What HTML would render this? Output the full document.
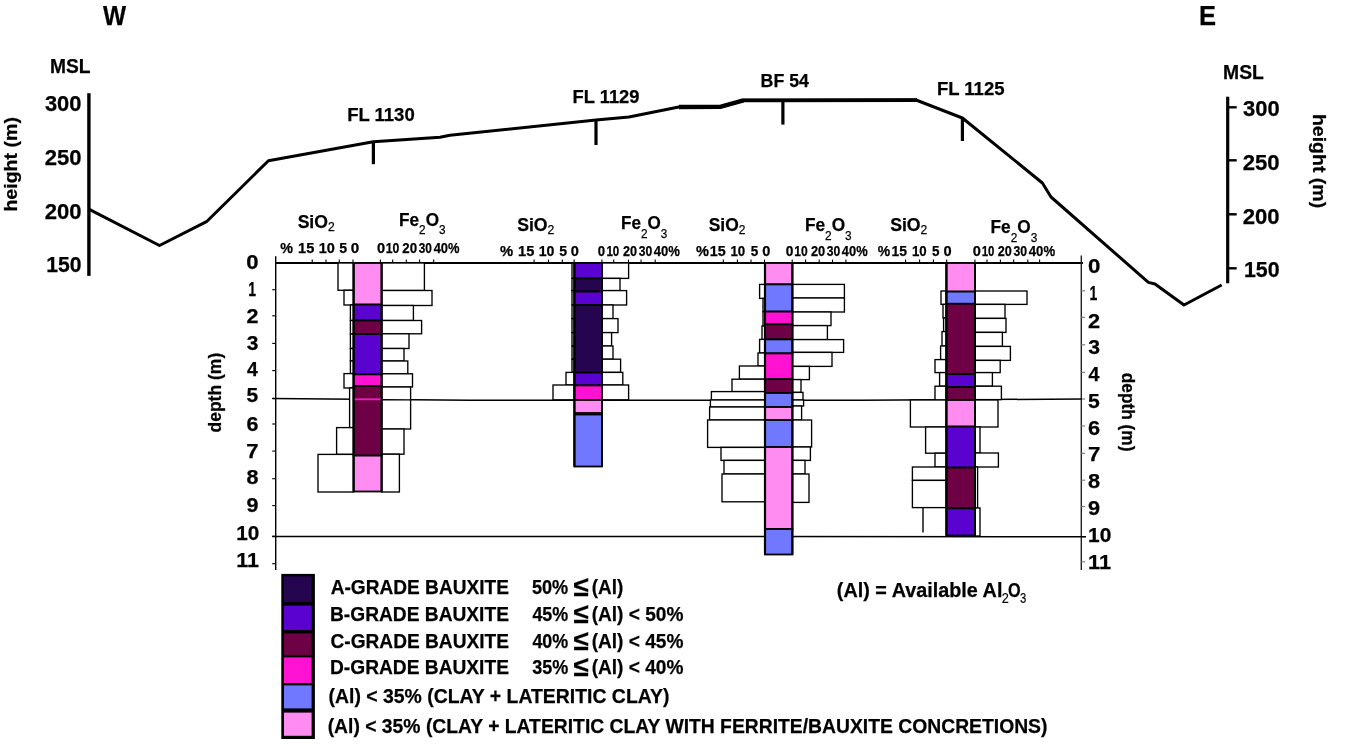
<!DOCTYPE html>
<html lang="en">
<head>
<meta charset="utf-8">
<title>Bauxite profile W–E</title>
<style>
html,body{margin:0;padding:0;background:#fff;}
body{width:1350px;height:750px;overflow:hidden;}
svg{display:block;}
svg text{font-family:"Liberation Sans", Arial, Helvetica, sans-serif;font-weight:bold;fill:#000;stroke:#000;stroke-width:0.25px;}
</style>
</head>
<body>
<svg width="1350" height="750" viewBox="0 0 1350 750" role="img" aria-label="W–E bauxite profile with borehole logs">
<rect x="0" y="0" width="1350" height="750" fill="#fff"/>
<g id="shapes">
<polyline fill="none" stroke="#000" stroke-width="3.0" stroke-linejoin="round" stroke-linecap="butt" points="89.3,209.3 159.5,245.5 206.5,221.7 268.4,160.8 373.3,141.8 440,137.3 450,135.3 596,120 629,117 680,106.8 721,106.8 743.5,100.3 783.3,100.2 916,100 962.4,118 1042.4,183 1051,197 1148.4,282.4 1155,284 1184,305 1221.7,285"/>
<polyline fill="none" stroke="#000" stroke-width="4.5" stroke-linejoin="round" points="679,106.9 721,106.7 743.5,100.3"/>
<line x1="743" y1="100.3" x2="917" y2="100.1" stroke="#000" stroke-width="3.8"/>
<line x1="373.4" y1="141" x2="373.4" y2="164.2" stroke="#000" stroke-width="3.2"/>
<line x1="596" y1="120" x2="596" y2="145" stroke="#000" stroke-width="3.2"/>
<line x1="782.9" y1="100" x2="782.9" y2="124.6" stroke="#000" stroke-width="3.2"/>
<line x1="962.4" y1="118" x2="962.4" y2="141" stroke="#000" stroke-width="3.2"/>
<line x1="88.9" y1="93.2" x2="88.9" y2="275.9" stroke="#000" stroke-width="3.4"/>
<line x1="1227.7" y1="96.7" x2="1227.7" y2="283.3" stroke="#000" stroke-width="3.2"/>
<line x1="1227.7" y1="107.3" x2="1236.7" y2="107.3" stroke="#000" stroke-width="2.4"/>
<line x1="1227.7" y1="160.3" x2="1236.7" y2="160.3" stroke="#000" stroke-width="2.4"/>
<line x1="1227.7" y1="214.3" x2="1236.7" y2="214.3" stroke="#000" stroke-width="2.4"/>
<line x1="1227.7" y1="268.3" x2="1236.7" y2="268.3" stroke="#000" stroke-width="2.4"/>
<line x1="275.6" y1="263" x2="1083" y2="263" stroke="#000" stroke-width="2.1"/>
<line x1="275.7" y1="256.3" x2="275.7" y2="570" stroke="#000" stroke-width="1.4"/>
<line x1="1081.3" y1="255.5" x2="1081.3" y2="570" stroke="#222" stroke-width="1.4"/>
<line x1="272.2" y1="289.7" x2="275.7" y2="289.7" stroke="#000" stroke-width="1.1"/>
<line x1="1081.3" y1="290.8" x2="1085.2" y2="290.8" stroke="#777" stroke-width="1.1"/>
<line x1="272.2" y1="315.8" x2="275.7" y2="315.8" stroke="#000" stroke-width="1.1"/>
<line x1="1081.3" y1="317.3" x2="1085.2" y2="317.3" stroke="#777" stroke-width="1.1"/>
<line x1="272.2" y1="343.4" x2="275.7" y2="343.4" stroke="#000" stroke-width="1.1"/>
<line x1="1081.3" y1="344.8" x2="1085.2" y2="344.8" stroke="#777" stroke-width="1.1"/>
<line x1="272.2" y1="370.6" x2="275.7" y2="370.6" stroke="#000" stroke-width="1.1"/>
<line x1="1081.3" y1="372.4" x2="1085.2" y2="372.4" stroke="#777" stroke-width="1.1"/>
<line x1="272.2" y1="398.5" x2="275.7" y2="398.5" stroke="#000" stroke-width="1.1"/>
<line x1="1081.3" y1="399" x2="1085.2" y2="399" stroke="#777" stroke-width="1.1"/>
<line x1="272.2" y1="424" x2="275.7" y2="424" stroke="#000" stroke-width="1.1"/>
<line x1="1081.3" y1="426" x2="1085.2" y2="426" stroke="#777" stroke-width="1.1"/>
<line x1="272.2" y1="451.1" x2="275.7" y2="451.1" stroke="#000" stroke-width="1.1"/>
<line x1="1081.3" y1="453.3" x2="1085.2" y2="453.3" stroke="#777" stroke-width="1.1"/>
<line x1="272.2" y1="478.7" x2="275.7" y2="478.7" stroke="#000" stroke-width="1.1"/>
<line x1="1081.3" y1="480.2" x2="1085.2" y2="480.2" stroke="#777" stroke-width="1.1"/>
<line x1="272.2" y1="505.6" x2="275.7" y2="505.6" stroke="#000" stroke-width="1.1"/>
<line x1="1081.3" y1="506.6" x2="1085.2" y2="506.6" stroke="#777" stroke-width="1.1"/>
<line x1="272.2" y1="536.3" x2="275.7" y2="536.3" stroke="#000" stroke-width="1.1"/>
<line x1="1081.3" y1="536.8" x2="1085.2" y2="536.8" stroke="#777" stroke-width="1.1"/>
<line x1="272.2" y1="563.7" x2="275.7" y2="563.7" stroke="#000" stroke-width="1.1"/>
<line x1="1081.3" y1="561.8" x2="1085.2" y2="561.8" stroke="#777" stroke-width="1.1"/>
<polyline fill="none" stroke="#000" stroke-width="1.5" points="272.2,398.5 470,400.3 860,400.3 1082,399"/>
<line x1="272.2" y1="536.5" x2="1086" y2="536.7" stroke="#000" stroke-width="1.5"/>
<rect x="338.0" y="263.0" width="15.6" height="27.3" fill="#fff" stroke="#000" stroke-width="1.35"/>
<rect x="344.0" y="290.3" width="9.6" height="14.7" fill="#fff" stroke="#000" stroke-width="1.35"/>
<rect x="350.4" y="305.0" width="3.2" height="15.5" fill="#fff" stroke="#000" stroke-width="1.35"/>
<rect x="350.4" y="320.5" width="3.2" height="13.5" fill="#fff" stroke="#000" stroke-width="1.35"/>
<rect x="350.4" y="334.0" width="3.2" height="14.5" fill="#fff" stroke="#000" stroke-width="1.35"/>
<rect x="350.4" y="348.5" width="3.2" height="12.5" fill="#fff" stroke="#000" stroke-width="1.35"/>
<rect x="350.4" y="361.0" width="3.2" height="12.6" fill="#fff" stroke="#000" stroke-width="1.35"/>
<rect x="344.0" y="373.6" width="9.6" height="14.4" fill="#fff" stroke="#000" stroke-width="1.35"/>
<rect x="349.6" y="388.0" width="4.0" height="39.6" fill="#fff" stroke="#000" stroke-width="1.35"/>
<rect x="336.6" y="427.6" width="17.0" height="26.8" fill="#fff" stroke="#000" stroke-width="1.35"/>
<rect x="318.0" y="454.4" width="35.6" height="37.6" fill="#fff" stroke="#000" stroke-width="1.35"/>
<rect x="381.6" y="263.0" width="42.8" height="27.5" fill="#fff" stroke="#000" stroke-width="1.35"/>
<rect x="381.6" y="290.5" width="50.4" height="15.0" fill="#fff" stroke="#000" stroke-width="1.35"/>
<rect x="381.6" y="305.5" width="31.8" height="15.0" fill="#fff" stroke="#000" stroke-width="1.35"/>
<rect x="381.6" y="320.5" width="40.0" height="13.3" fill="#fff" stroke="#000" stroke-width="1.35"/>
<rect x="381.6" y="333.8" width="27.4" height="14.7" fill="#fff" stroke="#000" stroke-width="1.35"/>
<rect x="381.6" y="348.5" width="22.4" height="12.5" fill="#fff" stroke="#000" stroke-width="1.35"/>
<rect x="381.6" y="361.0" width="26.2" height="12.8" fill="#fff" stroke="#000" stroke-width="1.35"/>
<rect x="381.6" y="373.8" width="30.9" height="13.2" fill="#fff" stroke="#000" stroke-width="1.35"/>
<rect x="381.6" y="387.0" width="29.0" height="42.0" fill="#fff" stroke="#000" stroke-width="1.35"/>
<rect x="381.6" y="429.0" width="22.4" height="25.2" fill="#fff" stroke="#000" stroke-width="1.35"/>
<rect x="381.6" y="454.2" width="17.8" height="37.8" fill="#fff" stroke="#000" stroke-width="1.35"/>
<rect x="353.6" y="263.0" width="28.0" height="41.6" fill="#ff8cf0" stroke="#000" stroke-width="1.8"/>
<rect x="353.6" y="304.6" width="28.0" height="15.9" fill="#5a03d0" stroke="#000" stroke-width="1.8"/>
<rect x="353.6" y="320.5" width="28.0" height="13.5" fill="#6e0046" stroke="#000" stroke-width="1.8"/>
<rect x="353.6" y="334.0" width="28.0" height="40.4" fill="#5a03d0" stroke="#000" stroke-width="1.8"/>
<rect x="353.6" y="374.4" width="28.0" height="11.6" fill="#ff12d2" stroke="#000" stroke-width="1.8"/>
<rect x="353.6" y="386.0" width="28.0" height="69.6" fill="#6e0046" stroke="#000" stroke-width="1.8"/>
<rect x="353.6" y="455.6" width="28.0" height="35.9" fill="#ff8cf0" stroke="#000" stroke-width="1.8"/>
<line x1="353.6" y1="263" x2="353.6" y2="491.5" stroke="#000" stroke-width="2.2"/>
<line x1="381.6" y1="263" x2="381.6" y2="491.5" stroke="#000" stroke-width="2.0"/>
<rect x="572.0" y="263.0" width="2.4" height="15.4" fill="#fff" stroke="#000" stroke-width="1.35"/>
<rect x="572.0" y="278.4" width="2.4" height="12.2" fill="#fff" stroke="#000" stroke-width="1.35"/>
<rect x="572.0" y="290.6" width="2.4" height="14.4" fill="#fff" stroke="#000" stroke-width="1.35"/>
<rect x="572.0" y="305.0" width="2.4" height="13.6" fill="#fff" stroke="#000" stroke-width="1.35"/>
<rect x="572.0" y="318.6" width="2.4" height="14.0" fill="#fff" stroke="#000" stroke-width="1.35"/>
<rect x="572.0" y="332.6" width="2.4" height="13.4" fill="#fff" stroke="#000" stroke-width="1.35"/>
<rect x="572.0" y="346.0" width="2.4" height="13.2" fill="#fff" stroke="#000" stroke-width="1.35"/>
<rect x="572.0" y="359.2" width="2.4" height="13.2" fill="#fff" stroke="#000" stroke-width="1.35"/>
<rect x="566.0" y="372.4" width="8.4" height="12.6" fill="#fff" stroke="#000" stroke-width="1.35"/>
<rect x="553.0" y="385.0" width="21.4" height="14.8" fill="#fff" stroke="#000" stroke-width="1.35"/>
<rect x="602.0" y="263.0" width="26.6" height="15.4" fill="#fff" stroke="#000" stroke-width="1.35"/>
<rect x="602.0" y="278.4" width="18.0" height="12.2" fill="#fff" stroke="#000" stroke-width="1.35"/>
<rect x="602.0" y="290.6" width="24.6" height="14.4" fill="#fff" stroke="#000" stroke-width="1.35"/>
<rect x="602.0" y="305.0" width="11.0" height="13.6" fill="#fff" stroke="#000" stroke-width="1.35"/>
<rect x="602.0" y="318.6" width="16.0" height="14.0" fill="#fff" stroke="#000" stroke-width="1.35"/>
<rect x="602.0" y="332.6" width="9.6" height="13.4" fill="#fff" stroke="#000" stroke-width="1.35"/>
<rect x="602.0" y="346.0" width="11.0" height="13.2" fill="#fff" stroke="#000" stroke-width="1.35"/>
<rect x="602.0" y="359.2" width="18.6" height="13.2" fill="#fff" stroke="#000" stroke-width="1.35"/>
<rect x="602.0" y="372.4" width="20.8" height="12.6" fill="#fff" stroke="#000" stroke-width="1.35"/>
<rect x="602.0" y="385.0" width="26.6" height="14.8" fill="#fff" stroke="#000" stroke-width="1.35"/>
<rect x="574.4" y="263.0" width="27.6" height="15.4" fill="#5a03d0" stroke="#000" stroke-width="1.8"/>
<rect x="574.4" y="278.4" width="27.6" height="13.2" fill="#25054f" stroke="#000" stroke-width="1.8"/>
<rect x="574.4" y="291.6" width="27.6" height="13.4" fill="#5a03d0" stroke="#000" stroke-width="1.8"/>
<rect x="574.4" y="305.0" width="27.6" height="67.6" fill="#25054f" stroke="#000" stroke-width="1.8"/>
<rect x="574.4" y="372.6" width="27.6" height="12.8" fill="#5a03d0" stroke="#000" stroke-width="1.8"/>
<rect x="574.4" y="385.4" width="27.6" height="14.6" fill="#ff12d2" stroke="#000" stroke-width="1.8"/>
<rect x="574.4" y="400.0" width="27.6" height="13.0" fill="#ff8cf0" stroke="#000" stroke-width="1.8"/>
<rect x="574.4" y="414.5" width="27.6" height="52.0" fill="#7078ff" stroke="#000" stroke-width="1.8"/>
<line x1="574.4" y1="263" x2="574.4" y2="466.5" stroke="#000" stroke-width="2.2"/>
<line x1="602" y1="263" x2="602" y2="466.5" stroke="#000" stroke-width="2.0"/>
<rect x="759.6" y="284.4" width="5.4" height="14.0" fill="#fff" stroke="#000" stroke-width="1.35"/>
<rect x="763.0" y="298.4" width="2.0" height="13.2" fill="#fff" stroke="#000" stroke-width="1.35"/>
<rect x="763.0" y="311.6" width="2.0" height="14.4" fill="#fff" stroke="#000" stroke-width="1.35"/>
<rect x="762.0" y="326.0" width="3.0" height="13.4" fill="#fff" stroke="#000" stroke-width="1.35"/>
<rect x="759.6" y="339.4" width="5.4" height="13.6" fill="#fff" stroke="#000" stroke-width="1.35"/>
<rect x="758.0" y="353.0" width="7.0" height="13.0" fill="#fff" stroke="#000" stroke-width="1.35"/>
<rect x="739.4" y="366.0" width="25.6" height="13.2" fill="#fff" stroke="#000" stroke-width="1.35"/>
<rect x="732.0" y="379.2" width="33.0" height="12.4" fill="#fff" stroke="#000" stroke-width="1.35"/>
<rect x="711.4" y="391.6" width="53.6" height="8.4" fill="#fff" stroke="#000" stroke-width="1.35"/>
<rect x="710.4" y="400.0" width="54.6" height="7.0" fill="#fff" stroke="#000" stroke-width="1.35"/>
<rect x="709.6" y="407.0" width="55.4" height="13.0" fill="#fff" stroke="#000" stroke-width="1.35"/>
<rect x="707.6" y="420.0" width="57.4" height="27.4" fill="#fff" stroke="#000" stroke-width="1.35"/>
<rect x="721.0" y="447.4" width="44.0" height="13.0" fill="#fff" stroke="#000" stroke-width="1.35"/>
<rect x="724.0" y="460.4" width="41.0" height="13.6" fill="#fff" stroke="#000" stroke-width="1.35"/>
<rect x="722.0" y="474.0" width="43.0" height="27.8" fill="#fff" stroke="#000" stroke-width="1.35"/>
<rect x="792.4" y="284.4" width="52.0" height="13.6" fill="#fff" stroke="#000" stroke-width="1.35"/>
<rect x="792.4" y="298.0" width="52.0" height="14.0" fill="#fff" stroke="#000" stroke-width="1.35"/>
<rect x="792.4" y="312.0" width="38.6" height="13.6" fill="#fff" stroke="#000" stroke-width="1.35"/>
<rect x="792.4" y="325.6" width="35.0" height="14.0" fill="#fff" stroke="#000" stroke-width="1.35"/>
<rect x="792.4" y="339.6" width="51.2" height="12.8" fill="#fff" stroke="#000" stroke-width="1.35"/>
<rect x="792.4" y="352.4" width="39.6" height="14.0" fill="#fff" stroke="#000" stroke-width="1.35"/>
<rect x="792.4" y="366.4" width="17.0" height="13.2" fill="#fff" stroke="#000" stroke-width="1.35"/>
<rect x="792.4" y="379.6" width="8.6" height="12.8" fill="#fff" stroke="#000" stroke-width="1.35"/>
<rect x="792.4" y="392.4" width="10.6" height="7.6" fill="#fff" stroke="#000" stroke-width="1.35"/>
<rect x="792.4" y="400.0" width="11.2" height="6.0" fill="#fff" stroke="#000" stroke-width="1.35"/>
<rect x="792.4" y="406.0" width="9.2" height="14.0" fill="#fff" stroke="#000" stroke-width="1.35"/>
<rect x="792.4" y="420.0" width="19.2" height="27.0" fill="#fff" stroke="#000" stroke-width="1.35"/>
<rect x="792.4" y="447.0" width="18.0" height="13.4" fill="#fff" stroke="#000" stroke-width="1.35"/>
<rect x="792.4" y="460.4" width="12.6" height="13.6" fill="#fff" stroke="#000" stroke-width="1.35"/>
<rect x="792.4" y="474.0" width="16.6" height="28.4" fill="#fff" stroke="#000" stroke-width="1.35"/>
<rect x="765.0" y="263.0" width="27.4" height="21.4" fill="#ff8cf0" stroke="#000" stroke-width="1.8"/>
<rect x="765.0" y="284.4" width="27.4" height="27.2" fill="#7078ff" stroke="#000" stroke-width="1.8"/>
<rect x="765.0" y="311.6" width="27.4" height="12.8" fill="#ff12d2" stroke="#000" stroke-width="1.8"/>
<rect x="765.0" y="324.4" width="27.4" height="15.0" fill="#6e0046" stroke="#000" stroke-width="1.8"/>
<rect x="765.0" y="339.4" width="27.4" height="14.0" fill="#7078ff" stroke="#000" stroke-width="1.8"/>
<rect x="765.0" y="353.4" width="27.4" height="25.8" fill="#ff12d2" stroke="#000" stroke-width="1.8"/>
<rect x="765.0" y="379.2" width="27.4" height="13.8" fill="#6e0046" stroke="#000" stroke-width="1.8"/>
<rect x="765.0" y="393.0" width="27.4" height="14.0" fill="#7078ff" stroke="#000" stroke-width="1.8"/>
<rect x="765.0" y="407.0" width="27.4" height="13.0" fill="#ff8cf0" stroke="#000" stroke-width="1.8"/>
<rect x="765.0" y="420.0" width="27.4" height="27.0" fill="#7078ff" stroke="#000" stroke-width="1.8"/>
<rect x="765.0" y="447.0" width="27.4" height="82.0" fill="#ff8cf0" stroke="#000" stroke-width="1.8"/>
<rect x="765.0" y="529.0" width="27.4" height="25.5" fill="#7078ff" stroke="#000" stroke-width="1.8"/>
<line x1="765" y1="263" x2="765" y2="554.5" stroke="#000" stroke-width="2.2"/>
<line x1="792.4" y1="263" x2="792.4" y2="554.5" stroke="#000" stroke-width="2.0"/>
<rect x="941.0" y="291.0" width="5.4" height="13.4" fill="#fff" stroke="#000" stroke-width="1.35"/>
<rect x="943.0" y="304.4" width="3.4" height="13.6" fill="#fff" stroke="#000" stroke-width="1.35"/>
<rect x="943.6" y="318.0" width="2.8" height="13.6" fill="#fff" stroke="#000" stroke-width="1.35"/>
<rect x="942.0" y="331.6" width="4.4" height="14.4" fill="#fff" stroke="#000" stroke-width="1.35"/>
<rect x="940.6" y="346.0" width="5.8" height="13.6" fill="#fff" stroke="#000" stroke-width="1.35"/>
<rect x="935.0" y="359.6" width="11.4" height="13.0" fill="#fff" stroke="#000" stroke-width="1.35"/>
<rect x="939.6" y="372.6" width="6.8" height="13.6" fill="#fff" stroke="#000" stroke-width="1.35"/>
<rect x="935.0" y="386.2" width="11.4" height="13.8" fill="#fff" stroke="#000" stroke-width="1.35"/>
<rect x="910.4" y="400.0" width="36.0" height="27.0" fill="#fff" stroke="#000" stroke-width="1.35"/>
<rect x="925.6" y="427.0" width="20.8" height="26.2" fill="#fff" stroke="#000" stroke-width="1.35"/>
<rect x="935.0" y="453.2" width="11.4" height="13.8" fill="#fff" stroke="#000" stroke-width="1.35"/>
<rect x="912.4" y="467.0" width="34.0" height="13.4" fill="#fff" stroke="#000" stroke-width="1.35"/>
<rect x="912.4" y="480.4" width="34.0" height="27.2" fill="#fff" stroke="#000" stroke-width="1.35"/>
<rect x="975.0" y="291.0" width="52.0" height="13.4" fill="#fff" stroke="#000" stroke-width="1.35"/>
<rect x="975.0" y="304.4" width="30.0" height="14.0" fill="#fff" stroke="#000" stroke-width="1.35"/>
<rect x="975.0" y="318.4" width="31.0" height="14.0" fill="#fff" stroke="#000" stroke-width="1.35"/>
<rect x="975.0" y="332.4" width="27.4" height="14.0" fill="#fff" stroke="#000" stroke-width="1.35"/>
<rect x="975.0" y="346.4" width="35.4" height="14.0" fill="#fff" stroke="#000" stroke-width="1.35"/>
<rect x="975.0" y="360.4" width="25.2" height="12.2" fill="#fff" stroke="#000" stroke-width="1.35"/>
<rect x="975.0" y="372.6" width="17.4" height="13.6" fill="#fff" stroke="#000" stroke-width="1.35"/>
<rect x="975.0" y="386.2" width="26.4" height="13.4" fill="#fff" stroke="#000" stroke-width="1.35"/>
<rect x="975.0" y="400.0" width="23.0" height="27.0" fill="#fff" stroke="#000" stroke-width="1.35"/>
<rect x="975.0" y="427.0" width="5.0" height="26.0" fill="#fff" stroke="#000" stroke-width="1.35"/>
<rect x="975.0" y="453.0" width="23.4" height="14.0" fill="#fff" stroke="#000" stroke-width="1.35"/>
<rect x="975.0" y="467.0" width="2.6" height="41.0" fill="#fff" stroke="#000" stroke-width="1.35"/>
<rect x="975.0" y="508.0" width="5.0" height="28.0" fill="#fff" stroke="#000" stroke-width="1.35"/>
<rect x="946.4" y="263.0" width="28.6" height="28.6" fill="#ff8cf0" stroke="#000" stroke-width="1.8"/>
<rect x="946.4" y="291.6" width="28.6" height="12.2" fill="#7078ff" stroke="#000" stroke-width="1.8"/>
<rect x="946.4" y="303.8" width="28.6" height="70.4" fill="#6e0046" stroke="#000" stroke-width="1.8"/>
<rect x="946.4" y="374.2" width="28.6" height="12.8" fill="#5a03d0" stroke="#000" stroke-width="1.8"/>
<rect x="946.4" y="387.0" width="28.6" height="13.0" fill="#6e0046" stroke="#000" stroke-width="1.8"/>
<rect x="946.4" y="400.0" width="28.6" height="26.6" fill="#ff8cf0" stroke="#000" stroke-width="1.8"/>
<rect x="946.4" y="426.6" width="28.6" height="41.0" fill="#5a03d0" stroke="#000" stroke-width="1.8"/>
<rect x="946.4" y="467.6" width="28.6" height="40.8" fill="#6e0046" stroke="#000" stroke-width="1.8"/>
<rect x="946.4" y="508.4" width="28.6" height="27.1" fill="#5a03d0" stroke="#000" stroke-width="1.8"/>
<line x1="946.4" y1="263" x2="946.4" y2="535.5" stroke="#000" stroke-width="2.2"/>
<line x1="975" y1="263" x2="975" y2="535.5" stroke="#000" stroke-width="2.0"/>
<line x1="354.8" y1="399.3" x2="380.6" y2="399.3" stroke="#f01cc0" stroke-width="1.9"/>
<line x1="382" y1="399.7" x2="411" y2="399.9" stroke="#000" stroke-width="1.4"/>
<line x1="923" y1="508" x2="923" y2="532.5" stroke="#000" stroke-width="1.4"/>
<line x1="312.2" y1="259.6" x2="312.2" y2="263" stroke="#000" stroke-width="1.1"/>
<line x1="326" y1="259.6" x2="326" y2="263" stroke="#000" stroke-width="1.1"/>
<line x1="339.3" y1="259.6" x2="339.3" y2="263" stroke="#000" stroke-width="1.1"/>
<line x1="353" y1="259.6" x2="353" y2="263" stroke="#000" stroke-width="1.1"/>
<line x1="380.4" y1="259.6" x2="380.4" y2="263" stroke="#000" stroke-width="1.1"/>
<line x1="392.7" y1="259.6" x2="392.7" y2="263" stroke="#000" stroke-width="1.1"/>
<line x1="406.3" y1="259.6" x2="406.3" y2="263" stroke="#000" stroke-width="1.1"/>
<line x1="419.6" y1="259.6" x2="419.6" y2="263" stroke="#000" stroke-width="1.1"/>
<line x1="433.7" y1="259.6" x2="433.7" y2="263" stroke="#000" stroke-width="1.1"/>
<line x1="534.1" y1="259.6" x2="534.1" y2="263" stroke="#000" stroke-width="1.1"/>
<line x1="548.5" y1="259.6" x2="548.5" y2="263" stroke="#000" stroke-width="1.1"/>
<line x1="562.3" y1="259.6" x2="562.3" y2="263" stroke="#000" stroke-width="1.1"/>
<line x1="574.1" y1="259.6" x2="574.1" y2="263" stroke="#000" stroke-width="1.1"/>
<line x1="601.9" y1="259.6" x2="601.9" y2="263" stroke="#000" stroke-width="1.1"/>
<line x1="613.7" y1="259.6" x2="613.7" y2="263" stroke="#000" stroke-width="1.1"/>
<line x1="628.5" y1="259.6" x2="628.5" y2="263" stroke="#000" stroke-width="1.1"/>
<line x1="641.1" y1="259.6" x2="641.1" y2="263" stroke="#000" stroke-width="1.1"/>
<line x1="655.2" y1="259.6" x2="655.2" y2="263" stroke="#000" stroke-width="1.1"/>
<line x1="723.3" y1="259.6" x2="723.3" y2="263" stroke="#000" stroke-width="1.1"/>
<line x1="737.4" y1="259.6" x2="737.4" y2="263" stroke="#000" stroke-width="1.1"/>
<line x1="751" y1="259.6" x2="751" y2="263" stroke="#000" stroke-width="1.1"/>
<line x1="764.5" y1="259.6" x2="764.5" y2="263" stroke="#000" stroke-width="1.1"/>
<line x1="792.2" y1="259.6" x2="792.2" y2="263" stroke="#000" stroke-width="1.1"/>
<line x1="805.6" y1="259.6" x2="805.6" y2="263" stroke="#000" stroke-width="1.1"/>
<line x1="819.2" y1="259.6" x2="819.2" y2="263" stroke="#000" stroke-width="1.1"/>
<line x1="832.5" y1="259.6" x2="832.5" y2="263" stroke="#000" stroke-width="1.1"/>
<line x1="845.9" y1="259.6" x2="845.9" y2="263" stroke="#000" stroke-width="1.1"/>
<line x1="905.6" y1="259.6" x2="905.6" y2="263" stroke="#000" stroke-width="1.1"/>
<line x1="919.6" y1="259.6" x2="919.6" y2="263" stroke="#000" stroke-width="1.1"/>
<line x1="933.4" y1="259.6" x2="933.4" y2="263" stroke="#000" stroke-width="1.1"/>
<line x1="946.7" y1="259.6" x2="946.7" y2="263" stroke="#000" stroke-width="1.1"/>
<line x1="974.9" y1="259.6" x2="974.9" y2="263" stroke="#000" stroke-width="1.1"/>
<line x1="987" y1="259.6" x2="987" y2="263" stroke="#000" stroke-width="1.1"/>
<line x1="1000.4" y1="259.6" x2="1000.4" y2="263" stroke="#000" stroke-width="1.1"/>
<line x1="1013.7" y1="259.6" x2="1013.7" y2="263" stroke="#000" stroke-width="1.1"/>
<line x1="1027.8" y1="259.6" x2="1027.8" y2="263" stroke="#000" stroke-width="1.1"/>
<line x1="1039.6" y1="259.6" x2="1039.6" y2="263" stroke="#000" stroke-width="1.1"/>
<rect x="282.6" y="575.2" width="31.0" height="162.5" fill="#000" stroke="#000" stroke-width="2.6"/>
<rect x="284" y="576.4" width="27.6" height="25.6" fill="#25054f"/>
<rect x="284" y="605.6" width="27.6" height="24.4" fill="#5a03d0"/>
<rect x="284" y="633.4" width="27.6" height="21.8" fill="#6e0046"/>
<rect x="284" y="657.4" width="27.6" height="25.6" fill="#ff12d2"/>
<rect x="284" y="685.4" width="27.6" height="23.0" fill="#7078ff"/>
<rect x="284" y="712.6" width="27.6" height="23.2" fill="#ff8cf0"/>
</g>
<g id="labels">
<text x="102.90" y="25" font-size="28.35" textLength="23.11" lengthAdjust="spacingAndGlyphs">W</text>
<text x="1198.90" y="25" font-size="28.35" textLength="17.05" lengthAdjust="spacingAndGlyphs">E</text>
<text x="49.90" y="73.2" font-size="20.58" textLength="40.54" lengthAdjust="spacingAndGlyphs">MSL</text>
<text x="1223.09" y="78.9" font-size="20.58" textLength="40.75" lengthAdjust="spacingAndGlyphs">MSL</text>
<text x="44.91" y="110.8" font-size="22.26" textLength="36.55" lengthAdjust="spacingAndGlyphs">300</text>
<text x="44.66" y="164.7" font-size="22.26" textLength="36.81" lengthAdjust="spacingAndGlyphs">250</text>
<text x="44.66" y="219.2" font-size="22.26" textLength="36.81" lengthAdjust="spacingAndGlyphs">200</text>
<text x="46.18" y="272" font-size="22.26" textLength="35.26" lengthAdjust="spacingAndGlyphs">150</text>
<text x="1243.01" y="115.7" font-size="22.26" textLength="36.66" lengthAdjust="spacingAndGlyphs">300</text>
<text x="1242.75" y="170" font-size="22.26" textLength="36.92" lengthAdjust="spacingAndGlyphs">250</text>
<text x="1242.75" y="224" font-size="22.26" textLength="36.92" lengthAdjust="spacingAndGlyphs">200</text>
<text x="1243.96" y="277.4" font-size="22.26" textLength="35.68" lengthAdjust="spacingAndGlyphs">150</text>
<text transform="translate(16.6,211.61) rotate(-90)" font-size="18.69" textLength="94.52" lengthAdjust="spacingAndGlyphs">height (m)</text>
<text transform="translate(1313.2,113.89) rotate(90)" font-size="18.69" textLength="94.31" lengthAdjust="spacingAndGlyphs">height (m)</text>
<text x="347.15" y="121" font-size="18.48" textLength="67.54" lengthAdjust="spacingAndGlyphs">FL 1130</text>
<text x="572.56" y="102.5" font-size="18.48" textLength="66.92" lengthAdjust="spacingAndGlyphs">FL 1129</text>
<text x="760.60" y="87" font-size="18.48" textLength="48.24" lengthAdjust="spacingAndGlyphs">BF 54</text>
<text x="936.95" y="95" font-size="18.48" textLength="67.54" lengthAdjust="spacingAndGlyphs">FL 1125</text>
<text x="246.38" y="269.3" font-size="20.16" textLength="12.28" lengthAdjust="spacingAndGlyphs">0</text>
<text x="1087.97" y="273.4" font-size="20.16" textLength="12.40" lengthAdjust="spacingAndGlyphs">0</text>
<text x="248.13" y="296" font-size="20.16" textLength="7.79" lengthAdjust="spacingAndGlyphs">1</text>
<text x="1089.53" y="300.3" font-size="20.16" textLength="7.79" lengthAdjust="spacingAndGlyphs">1</text>
<text x="246.40" y="323" font-size="20.16" textLength="11.97" lengthAdjust="spacingAndGlyphs">2</text>
<text x="1087.99" y="327.6" font-size="20.16" textLength="12.08" lengthAdjust="spacingAndGlyphs">2</text>
<text x="246.68" y="349.8" font-size="20.16" textLength="11.67" lengthAdjust="spacingAndGlyphs">3</text>
<text x="1088.27" y="354.3" font-size="20.16" textLength="11.78" lengthAdjust="spacingAndGlyphs">3</text>
<text x="246.96" y="375.9" font-size="20.16" textLength="10.85" lengthAdjust="spacingAndGlyphs">4</text>
<text x="1088.56" y="381" font-size="20.16" textLength="10.96" lengthAdjust="spacingAndGlyphs">4</text>
<text x="246.42" y="402.4" font-size="20.16" textLength="11.67" lengthAdjust="spacingAndGlyphs">5</text>
<text x="1088.01" y="407.6" font-size="20.16" textLength="11.78" lengthAdjust="spacingAndGlyphs">5</text>
<text x="246.40" y="430.7" font-size="20.16" textLength="11.97" lengthAdjust="spacingAndGlyphs">6</text>
<text x="1087.99" y="434.8" font-size="20.16" textLength="12.08" lengthAdjust="spacingAndGlyphs">6</text>
<text x="246.38" y="457.6" font-size="20.16" textLength="12.28" lengthAdjust="spacingAndGlyphs">7</text>
<text x="1087.97" y="461.2" font-size="20.16" textLength="12.40" lengthAdjust="spacingAndGlyphs">7</text>
<text x="246.40" y="484" font-size="20.16" textLength="11.97" lengthAdjust="spacingAndGlyphs">8</text>
<text x="1087.99" y="488.2" font-size="20.16" textLength="12.08" lengthAdjust="spacingAndGlyphs">8</text>
<text x="246.40" y="511.6" font-size="20.16" textLength="11.97" lengthAdjust="spacingAndGlyphs">9</text>
<text x="1087.99" y="514.8" font-size="20.16" textLength="12.08" lengthAdjust="spacingAndGlyphs">9</text>
<text x="236.32" y="540.4" font-size="20.16" textLength="23.03" lengthAdjust="spacingAndGlyphs">10</text>
<text x="1088.10" y="541.8" font-size="20.16" textLength="23.25" lengthAdjust="spacingAndGlyphs">10</text>
<text x="236.27" y="566.8" font-size="20.16" textLength="22.73" lengthAdjust="spacingAndGlyphs">11</text>
<text x="1088.05" y="568.8" font-size="20.16" textLength="22.95" lengthAdjust="spacingAndGlyphs">11</text>
<text transform="translate(220.9,432.50) rotate(-90)" font-size="18.69" textLength="79.72" lengthAdjust="spacingAndGlyphs">depth (m)</text>
<text transform="translate(1122.2,372.71) rotate(90)" font-size="18.69" textLength="78.80" lengthAdjust="spacingAndGlyphs">depth (m)</text>
<text x="297.63" y="228.4" font-size="18.9" textLength="37.06" lengthAdjust="spacingAndGlyphs">SiO<tspan font-size="13" font-weight="normal" dy="3">2</tspan></text>
<text x="517.13" y="231.4" font-size="18.9" textLength="37.16" lengthAdjust="spacingAndGlyphs">SiO<tspan font-size="13" font-weight="normal" dy="3">2</tspan></text>
<text x="708.74" y="231.4" font-size="18.9" textLength="36.65" lengthAdjust="spacingAndGlyphs">SiO<tspan font-size="13" font-weight="normal" dy="3">2</tspan></text>
<text x="890.13" y="231.4" font-size="18.9" textLength="37.16" lengthAdjust="spacingAndGlyphs">SiO<tspan font-size="13" font-weight="normal" dy="3">2</tspan></text>
<text x="399.07" y="225.5" font-size="18.9" textLength="46.46" lengthAdjust="spacingAndGlyphs">Fe<tspan font-size="13" font-weight="normal" dy="8.8">2</tspan><tspan dy="-8.8">O</tspan><tspan font-size="13" font-weight="normal" dy="8.8">3</tspan></text>
<text x="620.97" y="228.9" font-size="18.9" textLength="46.25" lengthAdjust="spacingAndGlyphs">Fe<tspan font-size="13" font-weight="normal" dy="8.8">2</tspan><tspan dy="-8.8">O</tspan><tspan font-size="13" font-weight="normal" dy="8.8">3</tspan></text>
<text x="804.96" y="231.1" font-size="18.9" textLength="46.77" lengthAdjust="spacingAndGlyphs">Fe<tspan font-size="13" font-weight="normal" dy="8.8">2</tspan><tspan dy="-8.8">O</tspan><tspan font-size="13" font-weight="normal" dy="8.8">3</tspan></text>
<text x="990.56" y="232.9" font-size="18.9" textLength="46.77" lengthAdjust="spacingAndGlyphs">Fe<tspan font-size="13" font-weight="normal" dy="8.8">2</tspan><tspan dy="-8.8">O</tspan><tspan font-size="13" font-weight="normal" dy="8.8">3</tspan></text>
<text x="280.35" y="253" font-size="14.07" textLength="12.72" lengthAdjust="spacingAndGlyphs">%</text>
<text x="298.06" y="253" font-size="14.07" textLength="16.26" lengthAdjust="spacingAndGlyphs">15</text>
<text x="318.77" y="253" font-size="14.07" textLength="16.10" lengthAdjust="spacingAndGlyphs">10</text>
<text x="339.30" y="253" font-size="14.07" textLength="7.83" lengthAdjust="spacingAndGlyphs">5</text>
<text x="350.86" y="253" font-size="14.07" textLength="8.47" lengthAdjust="spacingAndGlyphs">0</text>
<text x="377.08" y="253" font-size="14.07" textLength="8.12" lengthAdjust="spacingAndGlyphs">0</text>
<text x="385.63" y="253" font-size="14.07" textLength="13.64" lengthAdjust="spacingAndGlyphs">10</text>
<text x="402.33" y="253" font-size="14.07" textLength="14.79" lengthAdjust="spacingAndGlyphs">20</text>
<text x="418.68" y="253" font-size="14.07" textLength="13.17" lengthAdjust="spacingAndGlyphs">30</text>
<text x="433.67" y="253" font-size="14.07" textLength="25.80" lengthAdjust="spacingAndGlyphs">40%</text>
<text x="499.94" y="256.3" font-size="14.07" textLength="13.14" lengthAdjust="spacingAndGlyphs">%</text>
<text x="518.06" y="256.3" font-size="14.07" textLength="16.26" lengthAdjust="spacingAndGlyphs">15</text>
<text x="538.80" y="256.3" font-size="14.07" textLength="15.66" lengthAdjust="spacingAndGlyphs">10</text>
<text x="559.30" y="256.3" font-size="14.07" textLength="7.83" lengthAdjust="spacingAndGlyphs">5</text>
<text x="570.88" y="256.3" font-size="14.07" textLength="8.12" lengthAdjust="spacingAndGlyphs">0</text>
<text x="597.83" y="256.3" font-size="14.07" textLength="7.31" lengthAdjust="spacingAndGlyphs">0</text>
<text x="606.38" y="256.3" font-size="14.07" textLength="12.86" lengthAdjust="spacingAndGlyphs">10</text>
<text x="623.05" y="256.3" font-size="14.07" textLength="14.04" lengthAdjust="spacingAndGlyphs">20</text>
<text x="638.67" y="256.3" font-size="14.07" textLength="13.50" lengthAdjust="spacingAndGlyphs">30</text>
<text x="653.67" y="256.3" font-size="14.07" textLength="26.11" lengthAdjust="spacingAndGlyphs">40%</text>
<text x="696.14" y="256.3" font-size="14.07" textLength="12.93" lengthAdjust="spacingAndGlyphs">%</text>
<text x="709.88" y="256.3" font-size="14.07" textLength="15.93" lengthAdjust="spacingAndGlyphs">15</text>
<text x="730.46" y="256.3" font-size="14.07" textLength="14.76" lengthAdjust="spacingAndGlyphs">10</text>
<text x="750.72" y="256.3" font-size="14.07" textLength="7.49" lengthAdjust="spacingAndGlyphs">5</text>
<text x="762.28" y="256.3" font-size="14.07" textLength="8.12" lengthAdjust="spacingAndGlyphs">0</text>
<text x="785.71" y="256.3" font-size="14.07" textLength="7.65" lengthAdjust="spacingAndGlyphs">0</text>
<text x="794.24" y="256.3" font-size="14.07" textLength="13.42" lengthAdjust="spacingAndGlyphs">10</text>
<text x="810.94" y="256.3" font-size="14.07" textLength="14.25" lengthAdjust="spacingAndGlyphs">20</text>
<text x="826.77" y="256.3" font-size="14.07" textLength="13.50" lengthAdjust="spacingAndGlyphs">30</text>
<text x="841.87" y="256.3" font-size="14.07" textLength="25.80" lengthAdjust="spacingAndGlyphs">40%</text>
<text x="877.65" y="256.3" font-size="14.07" textLength="12.41" lengthAdjust="spacingAndGlyphs">%</text>
<text x="891.41" y="256.3" font-size="14.07" textLength="15.49" lengthAdjust="spacingAndGlyphs">15</text>
<text x="911.96" y="256.3" font-size="14.07" textLength="14.76" lengthAdjust="spacingAndGlyphs">10</text>
<text x="931.92" y="256.3" font-size="14.07" textLength="7.49" lengthAdjust="spacingAndGlyphs">5</text>
<text x="943.48" y="256.3" font-size="14.07" textLength="8.12" lengthAdjust="spacingAndGlyphs">0</text>
<text x="972.68" y="256.3" font-size="14.07" textLength="8.12" lengthAdjust="spacingAndGlyphs">0</text>
<text x="981.69" y="256.3" font-size="14.07" textLength="12.75" lengthAdjust="spacingAndGlyphs">10</text>
<text x="997.85" y="256.3" font-size="14.07" textLength="14.04" lengthAdjust="spacingAndGlyphs">20</text>
<text x="1013.47" y="256.3" font-size="14.07" textLength="13.60" lengthAdjust="spacingAndGlyphs">30</text>
<text x="1028.77" y="256.3" font-size="14.07" textLength="26.31" lengthAdjust="spacingAndGlyphs">40%</text>
<text x="330.73" y="594.4" font-size="20.48" textLength="178.21" lengthAdjust="spacingAndGlyphs">A-GRADE BAUXITE</text>
<text x="330.03" y="621.4" font-size="20.48" textLength="178.92" lengthAdjust="spacingAndGlyphs">B-GRADE BAUXITE</text>
<text x="330.50" y="647.6" font-size="20.48" textLength="178.44" lengthAdjust="spacingAndGlyphs">C-GRADE BAUXITE</text>
<text x="330.03" y="674" font-size="20.48" textLength="178.92" lengthAdjust="spacingAndGlyphs">D-GRADE BAUXITE</text>
<text x="531.94" y="594.4" font-size="20.48" textLength="36.28" lengthAdjust="spacingAndGlyphs">50%</text>
<text x="573.36" y="596.4" font-size="28.04" textLength="15.28" lengthAdjust="spacingAndGlyphs">≤</text>
<text x="591.68" y="594.4" font-size="20.48" textLength="31.55" lengthAdjust="spacingAndGlyphs">(Al)</text>
<text x="532.38" y="621.4" font-size="20.48" textLength="35.83" lengthAdjust="spacingAndGlyphs">45%</text>
<text x="573.36" y="623.4" font-size="28.04" textLength="15.28" lengthAdjust="spacingAndGlyphs">≤</text>
<text x="591.67" y="621.4" font-size="20.48" textLength="91.74" lengthAdjust="spacingAndGlyphs">(Al) &lt; 50%</text>
<text x="532.38" y="647.6" font-size="20.48" textLength="35.83" lengthAdjust="spacingAndGlyphs">40%</text>
<text x="573.36" y="649.6" font-size="28.04" textLength="15.28" lengthAdjust="spacingAndGlyphs">≤</text>
<text x="591.67" y="647.6" font-size="20.48" textLength="91.74" lengthAdjust="spacingAndGlyphs">(Al) &lt; 45%</text>
<text x="532.16" y="674" font-size="20.48" textLength="36.05" lengthAdjust="spacingAndGlyphs">35%</text>
<text x="573.36" y="676.0" font-size="28.04" textLength="15.28" lengthAdjust="spacingAndGlyphs">≤</text>
<text x="591.67" y="674" font-size="20.48" textLength="91.74" lengthAdjust="spacingAndGlyphs">(Al) &lt; 40%</text>
<text x="328.55" y="703.4" font-size="20.48" textLength="340.84" lengthAdjust="spacingAndGlyphs">(Al) &lt; 35% (CLAY + LATERITIC CLAY)</text>
<text x="327.66" y="732.8" font-size="20.48" textLength="719.76" lengthAdjust="spacingAndGlyphs">(Al) &lt; 35% (CLAY + LATERITIC CLAY WITH FERRITE/BAUXITE CONCRETIONS)</text>
<text x="836.83" y="597" font-size="20.48" textLength="165.56" lengthAdjust="spacingAndGlyphs">(Al) = Available Al</text>
<text x="1001.73" y="603.4" font-size="14.28" style="font-weight:normal;stroke-width:0.15px" textLength="7.08" lengthAdjust="spacingAndGlyphs">2</text>
<text x="1008.11" y="597" font-size="20.48" textLength="12.63" lengthAdjust="spacingAndGlyphs">O</text>
<text x="1020.11" y="603.4" font-size="14.28" style="font-weight:normal;stroke-width:0.15px" textLength="6.23" lengthAdjust="spacingAndGlyphs">3</text>
</g>
</svg>
</body>
</html>
